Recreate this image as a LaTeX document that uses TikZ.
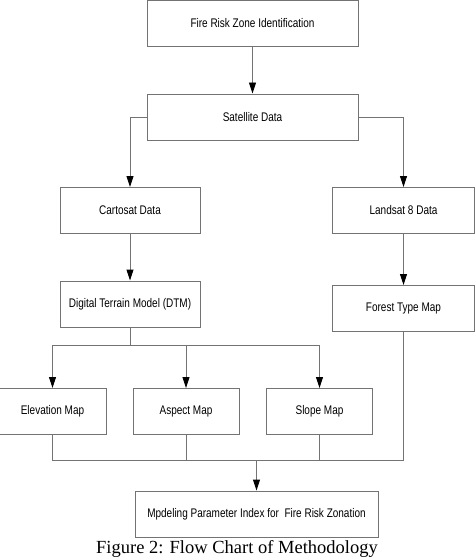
\documentclass[tikz,border=0pt]{standalone}
\usepackage{fontspec}
\setmainfont{Liberation Serif}
\newfontfamily\boxfont[FakeStretch=0.8]{Liberation Sans}
\usetikzlibrary{arrows.meta,positioning}
\tikzset
{
    stepbox/.style = {rectangle, draw=black!55, line width=0.9pt, align=center, inner sep=0pt, minimum height=46pt, font=\boxfont\fontsize{12.5}{14}\selectfont},
    link/.style    = {draw=black!55, line width=0.9pt},
    arrow/.style   = {link, -{Triangle[black, length=11pt, width=7pt]}}
}

\begin{document}
\begin{tikzpicture}[x=1pt, y=-1pt]
    \useasboundingbox (0,0) rectangle (474,559);
    \node [stepbox, minimum width=211pt] (fire) at (252.5,23.5) {Fire Risk Zone Identification};
    \node [stepbox, minimum width=211pt] (sat) at (252.5,117) {Satellite Data};
    \node [stepbox, minimum width=140pt] (carto) at (130,210.5) {Cartosat Data};
    \node [stepbox, minimum width=142pt] (landsat) at (403.5,210.5) {Landsat 8 Data};
    \node [stepbox, minimum width=140pt] (dtm) at (130,304) {Digital Terrain Model (DTM)};
    \node [stepbox, minimum width=142pt] (forest) at (403.5,308.5) {Forest Type Map};
    \node [stepbox, minimum width=108pt] (elev) at (52.5,411.5) {Elevation Map};
    \node [stepbox, minimum width=106pt] (aspect) at (186,411.5) {Aspect Map};
    \node [stepbox, minimum width=106pt] (slope) at (319.5,411.5) {Slope Map};
    \node [stepbox, minimum width=243pt] (mpd) at (256.5,514) {Mpdeling Parameter Index for~ Fire Risk Zonation};
    \node [anchor=base, font=\fontsize{18.5}{20}\selectfont, inner sep=0pt] (caption) at (237,553) {Figure 2: Flow Chart of Methodology};

    % top part
    \draw [arrow] (fire) -- (sat);
    \draw [arrow] (sat.west) -| (carto.north);
    \draw [arrow] (sat.east) -| (landsat.north);
    \draw [arrow] (carto) -- (dtm);
    \draw [arrow] (landsat) -- (forest);

    % split below the DTM
    \draw [link] (dtm.south) -- ++(0,18) coordinate (split);
    \foreach \m in {elev, aspect, slope}
        \draw [arrow] (split) -| (\m.north);

    % join above the index
    \coordinate (merge) at (256.5,460);
    \foreach \m in {elev, aspect, slope, forest}
        \draw [link] (\m.south) |- (merge);
    \draw [arrow] (merge) -- (mpd.north);
\end{tikzpicture}
\end{document}
